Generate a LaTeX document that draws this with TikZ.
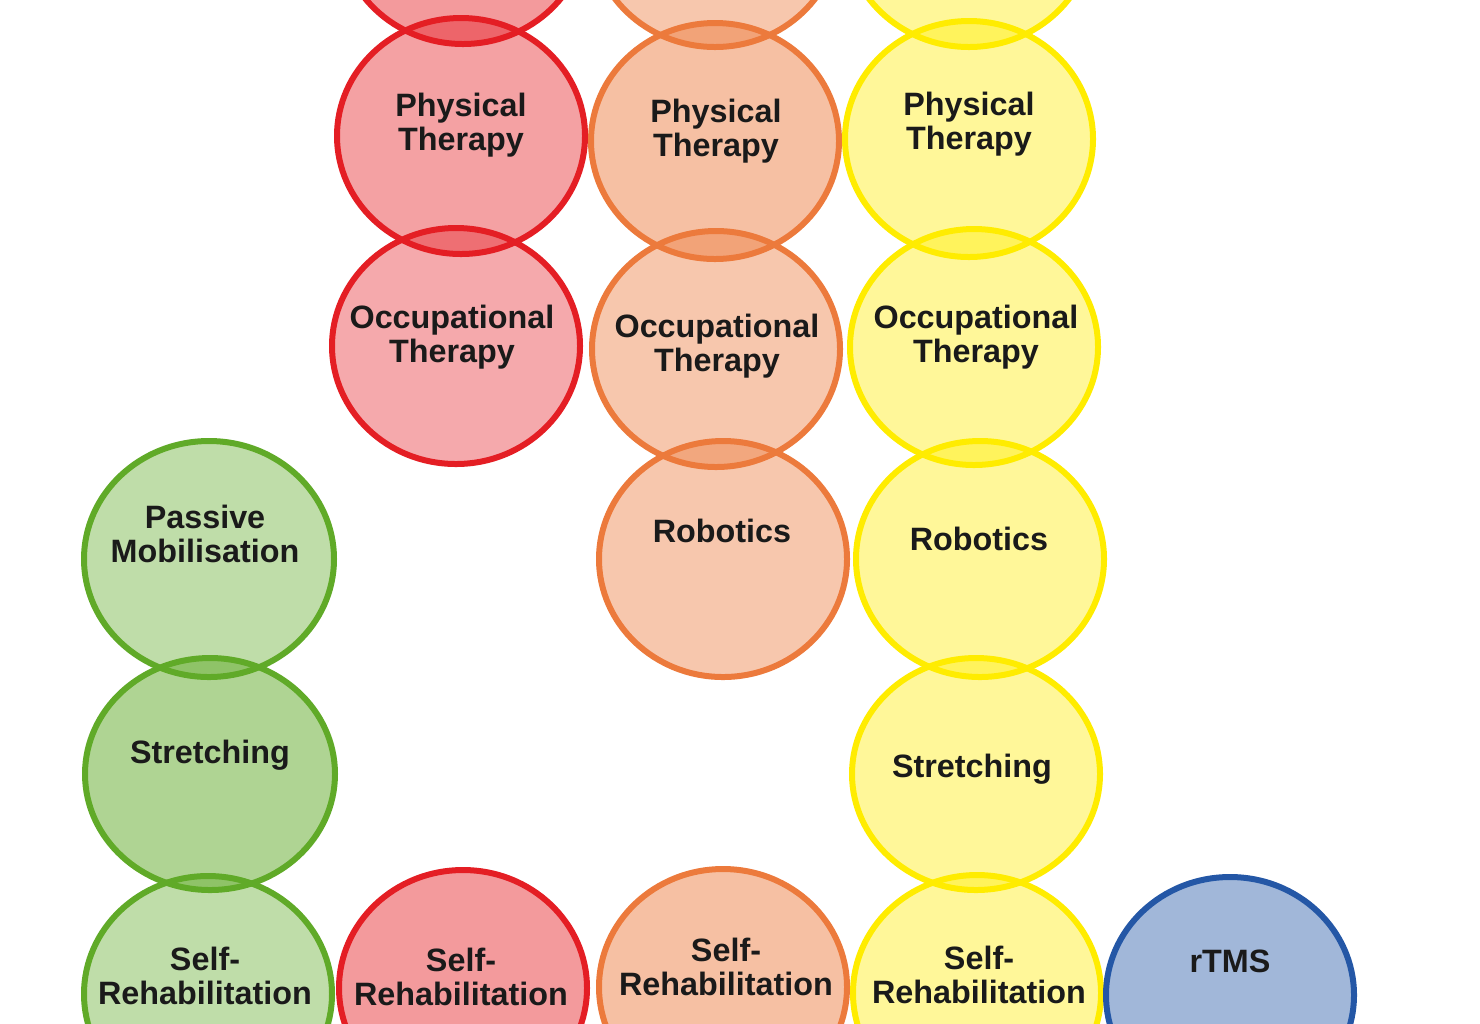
\documentclass[tikz,border=0pt]{standalone}
\usepackage{fontspec}
\setmainfont{Liberation Sans}

\definecolor{redline}{RGB}{228,30,36}
\definecolor{orangeline}{RGB}{236,122,60}
\definecolor{yellowline}{RGB}{255,236,0}
\definecolor{greenline}{RGB}{96,170,40}
\definecolor{blueline}{RGB}{36,87,166}
\definecolor{labeltext}{RGB}{26,26,26}

\begin{document}
\begin{tikzpicture}[x=0.1mm, y=-0.1mm,
    bubble/.style={line width=0.6mm, fill opacity=0.42},
    therapy/.style={font=\bfseries\fontsize{9.2}{9.7}\selectfont, text=labeltext, align=center, inner sep=0pt}]
    \clip (0,0) rectangle (1480,1023);

    % Red column
    \filldraw[bubble, draw=redline, fill=redline, fill opacity=0.45] (463,-74) ellipse (12.4mm and 11.8mm);
    \filldraw[bubble, draw=redline, fill=redline] (461,136) ellipse (12.4mm and 11.8mm);
    \filldraw[bubble, draw=redline, fill=redline, fill opacity=0.38] (456,346) ellipse (12.4mm and 11.8mm);
    \filldraw[bubble, draw=redline, fill=redline, fill opacity=0.45] (463,988) ellipse (12.4mm and 11.8mm);

    % Orange column
    \filldraw[bubble, draw=orangeline, fill=orangeline] (715,-71) ellipse (12.4mm and 11.8mm);
    \filldraw[bubble, draw=orangeline, fill=orangeline, fill opacity=0.47] (715,141) ellipse (12.4mm and 11.8mm);
    \filldraw[bubble, draw=orangeline, fill=orangeline] (716,349) ellipse (12.4mm and 11.8mm);
    \filldraw[bubble, draw=orangeline, fill=orangeline] (723,559) ellipse (12.4mm and 11.8mm);
    \filldraw[bubble, draw=orangeline, fill=orangeline, fill opacity=0.47] (723,987) ellipse (12.4mm and 11.8mm);

    % Yellow column
    \filldraw[bubble, draw=yellowline, fill=yellowline, fill opacity=0.4] (969,-71) ellipse (12.4mm and 11.8mm);
    \filldraw[bubble, draw=yellowline, fill=yellowline, fill opacity=0.4] (969,139) ellipse (12.4mm and 11.8mm);
    \filldraw[bubble, draw=yellowline, fill=yellowline, fill opacity=0.4] (974,347) ellipse (12.4mm and 11.8mm);
    \filldraw[bubble, draw=yellowline, fill=yellowline, fill opacity=0.4] (980,559) ellipse (12.4mm and 11.8mm);
    \filldraw[bubble, draw=yellowline, fill=yellowline, fill opacity=0.4] (976,774) ellipse (12.4mm and 11.6mm);
    \filldraw[bubble, draw=yellowline, fill=yellowline, fill opacity=0.4] (977,993) ellipse (12.4mm and 11.8mm);

    % Green column
    \filldraw[bubble, draw=greenline, fill=greenline, fill opacity=0.4] (209,559) ellipse (12.5mm and 11.8mm);
    \filldraw[bubble, draw=greenline, fill=greenline, fill opacity=0.5] (210,774) ellipse (12.5mm and 11.6mm);
    \filldraw[bubble, draw=greenline, fill=greenline, fill opacity=0.4] (208,994) ellipse (12.4mm and 11.8mm);

    % Blue
    \filldraw[bubble, draw=blueline, fill=blueline, fill opacity=0.43] (1230,995) ellipse (12.4mm and 11.8mm);

    % Labels
    \node[therapy] (redpt) at (461,125) {Physical\\Therapy};
    \node[therapy] (redot) at (452,337) {Occupational\\Therapy};
    \node[therapy] (redsr) at (461,977) {Self-\\Rehabilitation};

    \node[therapy] (orangept) at (716,131) {Physical\\Therapy};
    \node[therapy] (orangeot) at (717,346) {Occupational\\Therapy};
    \node[therapy] (orangerob) at (722,531) {Robotics};
    \node[therapy] (orangesr) at (726,967) {Self-\\Rehabilitation};

    \node[therapy] (yellowpt) at (969,124) {Physical\\Therapy};
    \node[therapy] (yellowot) at (976,337) {Occupational\\Therapy};
    \node[therapy] (yellowrob) at (979,539) {Robotics};
    \node[therapy] (yellowstr) at (972,769) {Stretching};
    \node[therapy] (yellowsr) at (979,975) {Self-\\Rehabilitation};

    \node[therapy] (greenpm) at (205,534) {Passive\\Mobilisation};
    \node[therapy] (greenstr) at (210,755) {Stretching};
    \node[therapy] (greensr) at (205,976) {Self-\\Rehabilitation};

    \node[therapy] (bluertms) at (1230,961) {rTMS};
\end{tikzpicture}
\end{document}
